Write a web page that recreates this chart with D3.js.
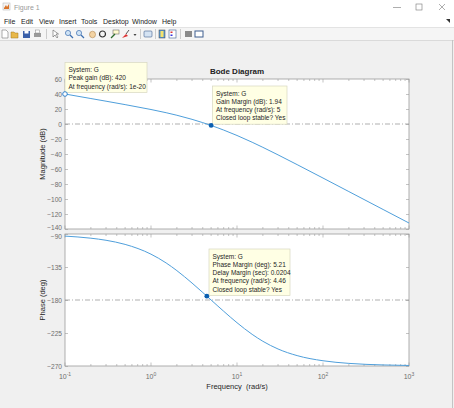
<!DOCTYPE html>
<html>
<head>
<meta charset="utf-8">
<script src="https://cdn.jsdelivr.net/npm/d3@7"></script>
<style>
  body { margin: 0; background: #ffffff; }
  text { font-family: "Liberation Sans", Arial, sans-serif; }
</style>
</head>
<body>
<div id="fig"></div>
<script>
// values
var freq     = [0.1, 0.2, 0.3, 0.5, 1, 1.5, 2, 3, 4, 5, 6, 7, 10, 15, 20, 30, 50, 100, 200, 500, 1000];
var magDb    = [40.0, 33.95, 30.4, 25.84, 19.32, 15.05, 11.66, 6.22, 1.8, -1.94, -5.2, -8.09, -15.31, -24.32, -31.14, -41.15, -54.16, -72.08, -90.11, -113.98, -132.04];
var phaseDeg = [-92.86, -95.72, -98.56, -104.17, -117.51, -129.49, -139.97, -156.89, -169.79, -180, -188.34, -195.34, -210.96, -226.85, -236.3, -246.81, -255.83, -262.86, -266.42, -268.56, -269.29];

var magTicks   = [60, 40, 20, 0, -20, -40, -60, -80, -100, -120, -140];
var phaseTicks = [-90, -135, -180, -225, -270];
var decades    = [-1, 0, 1, 2, 3];

// data tips: [freq, value]
var peakPoint = [0.1, 40];
var gmPoint   = [5, -1.94];
var pmPoint   = [4.46, -174.79];
var peakText = ["System: G", "Peak gain (dB): 420", "At frequency (rad/s): 1e-20"];
var gmText   = ["System: G", "Gain Margin (dB): 1.94", "At frequency (rad/s): 5", "Closed loop stable? Yes"];
var pmText   = ["System: G", "Phase Margin (deg): 5.21", "Delay Margin (sec): 0.0204", "At frequency (rad/s): 4.46", "Closed loop stable? Yes"];

var menuItems = ["File", "Edit", "View", "Insert", "Tools", "Desktop", "Window", "Help"];
var menuX     = [4, 21, 39, 59, 81, 103, 132, 162];

var w = 454, h = 408;
var svg = d3.select("#fig").append("svg")
  .attr("width", w).attr("height", h);

// ---- window chrome ----
svg.append("rect").attr("width", w).attr("height", h).attr("fill", "#f0f0f0");
svg.append("rect").attr("width", w).attr("height", 27).attr("fill", "#ffffff");
svg.append("rect").attr("y", 27).attr("width", w).attr("height", 13).attr("fill", "#f5f5f5");
svg.append("line").attr("x1", 0).attr("x2", w).attr("y1", 27.5).attr("y2", 27.5).attr("stroke", "#e3e3e3");
svg.append("line").attr("x1", 0).attr("x2", w).attr("y1", 40.5).attr("y2", 40.5).attr("stroke", "#dadada");
svg.append("line").attr("x1", 452.5).attr("x2", 452.5).attr("y1", 40).attr("y2", h).attr("stroke", "#c4c4c4");

// title bar
var logo = svg.append("g").attr("transform", "translate(3,3)");
logo.append("rect").attr("width", 7).attr("height", 7).attr("fill", "#f4f4f4").attr("stroke", "#b0b0b0").attr("stroke-width", 0.5);
logo.append("path").attr("d", "M1,5 L3,2 L4,4 L6,1 L6,6 L1,6 Z").attr("fill", "#d9742a");
svg.append("text").attr("x", 14).attr("y", 10).attr("font-size", 7).attr("fill", "#9a9a9a").text("Figure 1");
svg.append("line").attr("x1", 393).attr("x2", 401).attr("y1", 7.5).attr("y2", 7.5).attr("stroke", "#777").attr("stroke-width", 0.6);
svg.append("rect").attr("x", 416).attr("y", 4).attr("width", 6).attr("height", 6).attr("fill", "none").attr("stroke", "#777").attr("stroke-width", 0.6);
svg.append("path").attr("d", "M439,4 L445,10 M445,4 L439,10").attr("stroke", "#777").attr("stroke-width", 0.6);

// menu
svg.selectAll(".menu").data(menuItems).enter().append("text")
  .attr("class", "menu")
  .attr("x", function(d, i){ return menuX[i]; })
  .attr("y", 24)
  .attr("font-size", 7)
  .attr("fill", "#222")
  .text(function(d){ return d; });
svg.append("path").attr("d", "M446,19 L450,19 L450,23 Z").attr("fill", "#333");

// toolbar icons (rough glyphs)
var tb = svg.append("g");
function icon(x, draw){ var g = tb.append("g").attr("transform", "translate(" + x + ",30)"); draw(g); }
icon(1, function(g){ g.append("path").attr("d", "M1,0 L5,0 L7,2 L7,8 L1,8 Z").attr("fill", "#fff").attr("stroke", "#777").attr("stroke-width", 0.6); });
icon(11, function(g){ g.append("path").attr("d", "M0,2 L3,2 L4,3 L7,3 L7,8 L0,8 Z").attr("fill", "#e8b84a").attr("stroke", "#a37a1d").attr("stroke-width", 0.5); });
icon(23, function(g){ g.append("rect").attr("width", 7).attr("height", 7).attr("y", 1).attr("fill", "#3a5fa8"); g.append("rect").attr("x", 1.5).attr("y", 1).attr("width", 4).attr("height", 2.5).attr("fill", "#fff"); });
icon(34, function(g){ g.append("rect").attr("x", 0).attr("y", 3).attr("width", 7).attr("height", 4).attr("fill", "#9a9a9a"); g.append("rect").attr("x", 1.5).attr("y", 0).attr("width", 4).attr("height", 3).attr("fill", "#fff").attr("stroke", "#888").attr("stroke-width", 0.5); });
tb.append("line").attr("x1", 46.5).attr("x2", 46.5).attr("y1", 29).attr("y2", 39).attr("stroke", "#ccc");
icon(52, function(g){ g.append("path").attr("d", "M1,0 L1,7 L3,5 L5,8 L6,7 L4,4 L6.5,4 Z").attr("fill", "#fff").attr("stroke", "#444").attr("stroke-width", 0.5); });
icon(65, function(g){ g.append("circle").attr("cx", 3).attr("cy", 3).attr("r", 2.6).attr("fill", "#cfe3f5").attr("stroke", "#3d6fb0").attr("stroke-width", 0.7); g.append("line").attr("x1", 5).attr("y1", 5).attr("x2", 8).attr("y2", 8).attr("stroke", "#3d6fb0").attr("stroke-width", 1.2); });
icon(76, function(g){ g.append("circle").attr("cx", 3).attr("cy", 3).attr("r", 2.6).attr("fill", "#cfe3f5").attr("stroke", "#3d6fb0").attr("stroke-width", 0.7); g.append("line").attr("x1", 5).attr("y1", 5).attr("x2", 8).attr("y2", 8).attr("stroke", "#3d6fb0").attr("stroke-width", 1.2); });
icon(89, function(g){ g.append("ellipse").attr("cx", 3.5).attr("cy", 4.5).attr("rx", 3).attr("ry", 3.3).attr("fill", "#f3d3a3").attr("stroke", "#a6763d").attr("stroke-width", 0.5); });
icon(99, function(g){ g.append("circle").attr("cx", 3.5).attr("cy", 4).attr("r", 3).attr("fill", "none").attr("stroke", "#333").attr("stroke-width", 1.2); });
icon(111, function(g){ g.append("rect").attr("x", 2).attr("y", 0).attr("width", 6).attr("height", 4).attr("fill", "#fffbd0").attr("stroke", "#555").attr("stroke-width", 0.5); g.append("path").attr("d", "M0,8 L4,4").attr("stroke", "#2c6b2c").attr("stroke-width", 1.2); });
icon(122, function(g){ g.append("path").attr("d", "M0,8 L4,4 L6,6 Z").attr("fill", "#d33"); g.append("path").attr("d", "M4,4 L7,0").attr("stroke", "#555").attr("stroke-width", 1); });
tb.append("path").attr("d", "M133.5,34 L136.5,34 L135,36 Z").attr("fill", "#444");
tb.append("line").attr("x1", 140.5).attr("x2", 140.5).attr("y1", 29).attr("y2", 39).attr("stroke", "#ccc");
icon(144, function(g){ g.append("rect").attr("x", 0).attr("y", 1).attr("width", 8).attr("height", 6).attr("rx", 1).attr("fill", "#d5e3f3").attr("stroke", "#3f5f8f").attr("stroke-width", 0.6); });
tb.append("line").attr("x1", 155.5).attr("x2", 155.5).attr("y1", 29).attr("y2", 39).attr("stroke", "#ccc");
icon(159, function(g){ g.append("rect").attr("x", 0).attr("y", 0).attr("width", 6).attr("height", 8).attr("fill", "#5b9bd5").attr("stroke", "#444").attr("stroke-width", 0.5); g.append("rect").attr("x", 1.5).attr("y", 1).attr("width", 3).attr("height", 6).attr("fill", "#f7e36a"); });
icon(169, function(g){ g.append("rect").attr("x", 0).attr("y", 0).attr("width", 7).attr("height", 8).attr("fill", "#fff").attr("stroke", "#3f5f8f").attr("stroke-width", 0.6); g.append("rect").attr("x", 1.5).attr("y", 1.5).attr("width", 2).attr("height", 1.5).attr("fill", "#d33"); g.append("rect").attr("x", 1.5).attr("y", 4.5).attr("width", 2).attr("height", 1.5).attr("fill", "#33d"); });
tb.append("line").attr("x1", 180.5).attr("x2", 180.5).attr("y1", 29).attr("y2", 39).attr("stroke", "#ccc");
icon(185, function(g){ g.append("rect").attr("x", 0).attr("y", 1).attr("width", 7).attr("height", 6).attr("fill", "#8a8a8a"); });
icon(195, function(g){ g.append("rect").attr("x", 0).attr("y", 1).attr("width", 8).attr("height", 6).attr("fill", "#fff").attr("stroke", "#3f5f8f").attr("stroke-width", 1); });

// ---- bode axes ----
var left = 65, right = 409;
var x = d3.scaleLog().domain([0.1, 1000]).range([left, right]);
var yMag = d3.scaleLinear().domain([-140, 60]).range([229, 79]);
var yPh  = d3.scaleLinear().domain([-270, -90]).range([366, 234]);

var axisColor = "#9c9c9c", labelColor = "#6e6e6e";
var minorTicks = [];
decades.slice(0, -1).forEach(function(p){ for (var k = 2; k <= 9; k++) minorTicks.push(k * Math.pow(10, p)); });
var majorTicks = decades.map(function(p){ return Math.pow(10, p); });

function panel(y, ticks, id){
  var top = y.range()[1], bot = y.range()[0];
  svg.append("rect").attr("x", left).attr("y", top).attr("width", right - left).attr("height", bot - top)
    .attr("fill", "#ffffff");
  svg.append("clipPath").attr("id", id).append("rect")
    .attr("x", left).attr("y", top).attr("width", right - left).attr("height", bot - top);

  var gl = svg.append("g").attr("transform", "translate(" + left + ",0)")
    .call(d3.axisLeft(y).tickValues(ticks).tickSize(-3).tickPadding(3).tickFormat(d3.format("d")));
  var gr = svg.append("g").attr("transform", "translate(" + right + ",0)")
    .call(d3.axisRight(y).tickValues(ticks).tickSize(-3).tickFormat(""));
  [top, bot].forEach(function(yy, i){
    var sign = i === 0 ? 1 : -1;
    var gx = svg.append("g").attr("transform", "translate(0," + yy + ")");
    gx.selectAll(".maj").data(majorTicks).enter().append("line")
      .attr("x1", function(d){ return x(d); }).attr("x2", function(d){ return x(d); })
      .attr("y1", 0).attr("y2", sign * 3.5).attr("stroke", axisColor).attr("stroke-width", 0.6);
    gx.selectAll(".min").data(minorTicks).enter().append("line")
      .attr("x1", function(d){ return x(d); }).attr("x2", function(d){ return x(d); })
      .attr("y1", 0).attr("y2", sign * 2).attr("stroke", axisColor).attr("stroke-width", 0.6);
  });
  [gl, gr].forEach(function(g){
    g.select(".domain").remove();
    g.selectAll("line").attr("stroke", axisColor).attr("stroke-width", 0.6);
    g.selectAll("text").attr("font-size", 6.6).attr("fill", labelColor).attr("font-family", "Liberation Sans, Arial, sans-serif");
  });
  svg.append("rect").attr("x", left).attr("y", top).attr("width", right - left).attr("height", bot - top)
    .attr("fill", "none").attr("stroke", axisColor).attr("stroke-width", 0.8);
  return gl;
}

var magAxis = panel(yMag, magTicks, "clipMag");
var phAxis = panel(yPh, phaseTicks, "clipPh");
// the -140 and -90 labels sit almost on each other, as in the reference; nudge them apart
magAxis.selectAll(".tick text").filter(function(d){ return d === -140; }).attr("dy", "0.1em");
phAxis.selectAll(".tick text").filter(function(d){ return d === -90; }).attr("dy", "0.75em");

// reference lines
svg.append("line").attr("x1", left).attr("x2", right).attr("y1", yMag(0)).attr("y2", yMag(0))
  .attr("stroke", "#8c8c8c").attr("stroke-width", 0.7).attr("stroke-dasharray", "5,2,1,2");
svg.append("line").attr("x1", left).attr("x2", right).attr("y1", yPh(-180)).attr("y2", yPh(-180))
  .attr("stroke", "#8c8c8c").attr("stroke-width", 0.7).attr("stroke-dasharray", "5,2,1,2");

// curves
var lineColor = "#4f9fdb";
var magLine = d3.line().x(function(d, i){ return x(freq[i]); }).y(function(d){ return yMag(d); }).curve(d3.curveMonotoneX);
var phLine  = d3.line().x(function(d, i){ return x(freq[i]); }).y(function(d){ return yPh(d); }).curve(d3.curveMonotoneX);
svg.append("path").attr("d", magLine(magDb)).attr("fill", "none").attr("stroke", lineColor).attr("stroke-width", 1).attr("clip-path", "url(#clipMag)");
svg.append("path").attr("d", phLine(phaseDeg)).attr("fill", "none").attr("stroke", lineColor).attr("stroke-width", 1).attr("clip-path", "url(#clipPh)");

// x tick labels
var xl = svg.selectAll(".xlab").data(decades).enter().append("text")
  .attr("class", "xlab")
  .attr("x", function(d){ return x(Math.pow(10, d)); })
  .attr("y", 379)
  .attr("text-anchor", "middle")
  .attr("font-size", 7)
  .attr("fill", labelColor);
xl.append("tspan").text("10");
xl.append("tspan").attr("dy", -3).attr("font-size", 5).text(function(d){ return d; });

// titles and labels
svg.append("text").attr("x", (left + right) / 2).attr("y", 74).attr("text-anchor", "middle")
  .attr("font-size", 8).attr("font-weight", "bold").attr("fill", "#222").text("Bode Diagram");
svg.append("text").attr("transform", "translate(45," + (79 + 229) / 2 + ") rotate(-90)").attr("text-anchor", "middle")
  .attr("font-size", 7.5).attr("fill", "#262626").text("Magnitude (dB)");
svg.append("text").attr("transform", "translate(45," + (234 + 366) / 2 + ") rotate(-90)").attr("text-anchor", "middle")
  .attr("font-size", 7.5).attr("fill", "#262626").text("Phase (deg)");
svg.append("text").attr("x", (left + right) / 2).attr("y", 389).attr("text-anchor", "middle")
  .attr("font-size", 7.5).attr("fill", "#262626").attr("xml:space", "preserve").text("Frequency  (rad/s)");

// data tips
function tip(bx, by, bw, lines){
  var g = svg.append("g");
  g.append("rect").attr("x", bx).attr("y", by).attr("width", bw).attr("height", lines.length * 8.3 + 5)
    .attr("fill", "#ffffe4").attr("stroke", "#d8d8c0").attr("stroke-width", 0.7);
  g.selectAll("text").data(lines).enter().append("text")
    .attr("x", bx + 3.5)
    .attr("y", function(d, i){ return by + 9.5 + i * 8.3; })
    .attr("font-size", 6.5)
    .attr("fill", "#262626")
    .text(function(d){ return d; });
}
tip(65, 62.5, 82, peakText);
tip(212.5, 86, 74.5, gmText);
tip(209, 249, 81, pmText);

svg.append("circle").attr("cx", x(peakPoint[0])).attr("cy", yMag(peakPoint[1])).attr("r", 2.3)
  .attr("fill", "#ffffff").attr("stroke", "#1f77c9").attr("stroke-width", 0.9);
svg.append("circle").attr("cx", x(gmPoint[0])).attr("cy", yMag(gmPoint[1])).attr("r", 2.4).attr("fill", "#0a5fb0");
svg.append("circle").attr("cx", x(pmPoint[0])).attr("cy", yPh(pmPoint[1])).attr("r", 2.4).attr("fill", "#0a5fb0");
</script>
</body>
</html>
